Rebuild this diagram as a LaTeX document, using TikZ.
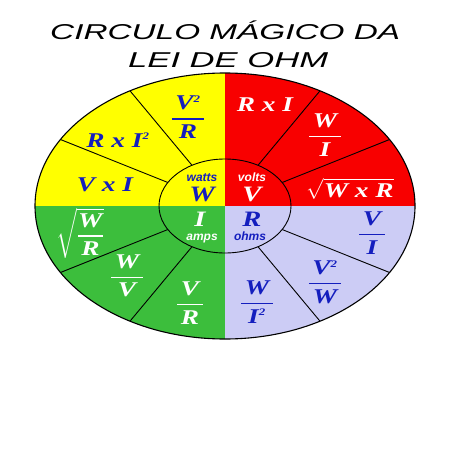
\documentclass[tikz,border=0pt]{standalone}
\usepackage{fontspec}
\usepackage{amsmath}
\usepackage{graphicx}
\setmainfont{Liberation Serif}
\newfontfamily\frmfont[FakeStretch=1.3]{Liberation Serif}
\newfontfamily\lblfont{Liberation Sans}
\newfontfamily\titlefont{Liberation Sans}
\definecolor{yel}{RGB}{255,255,0}
\definecolor{rd}{RGB}{248,0,0}
\definecolor{grn}{RGB}{60,190,60}
\definecolor{lav}{RGB}{204,204,245}
\definecolor{bl}{RGB}{20,30,190}
\newcommand\fr[2]{$\genfrac{}{}{1.5pt}{0}{\,\text{#1}\,}{\,\text{#2}\,}$}
\newcommand\sq[1]{\text{\fontsize{10}{10}\selectfont #1}}
\begin{document}
\begin{tikzpicture}[x=1pt,y=-1pt,
  frm/.style={inner sep=0pt,font=\fontsize{21}{23}\selectfont\frmfont\bfseries\itshape},
  small/.style={inner sep=0pt,anchor=base,font=\fontsize{12}{13}\selectfont\lblfont\bfseries\itshape},
  big/.style={inner sep=0pt,anchor=base,font=\fontsize{22}{23}\selectfont\frmfont\bfseries\itshape},
  divider/.style={line width=0.9pt},
  titletext/.style={inner sep=0pt,anchor=base west,font=\titlefont\itshape}]
\path[use as bounding box,fill=white] (0,0) rectangle (452,452);
\coordinate (c) at (225,206);
% title
\node[titletext] (t1) at (50,40) {\resizebox{350pt}{15pt}{CIRCULO M\smash{Á}GICO DA}};
\node[titletext] (t2) at (128,68) {\resizebox{200pt}{15pt}{LEI DE OHM}};
% quadrants
\begin{scope}
\clip (c) ellipse [x radius=190pt, y radius=133pt];
\fill[yel] (30,60) rectangle (225,206);
\fill[rd] (225,60) rectangle (420,206);
\fill[grn] (30,206) rectangle (225,350);
\fill[lav] (225,206) rectangle (420,350);
\end{scope}
\draw[line width=1.1pt] (c) ellipse [x radius=190pt, y radius=133pt];
\draw[divider] (c) ellipse [x radius=66pt, y radius=47pt];
\foreach \a in {30,60,120,150,210,240,300,330}
  \draw[divider] ({225+66*cos(\a)},{206-47*sin(\a)}) -- ({225+190*cos(\a)},{206-133*sin(\a)});
% yellow
\node[frm,text=bl] (y1) at (188,117) {\fr{V$^{\sq{2}}$}{R}};
\node[frm,text=bl] (y2) at (118,140) {R x I$^{\sq{2}}$};
\node[frm,text=bl] (y3) at (105,185) {V x I};
% red
\node[frm,text=white] (r1) at (265,105) {R x I};
\node[frm,text=white] (r2) at (325,135) {\fr{W}{I}};
\node[frm,text=white] (r3) at (350,189) {$\sqrt{\text{W x R}}$};
% green
\node[frm,text=white] (g1) at (80,233) {$\sqrt{\genfrac{}{}{1.5pt}{0}{\text{W}}{\text{R}}}$};
\node[frm,text=white] (g2) at (127,276) {\fr{W}{V}};
\node[frm,text=white] (g3) at (190,303) {\fr{V}{R}};
% lavender
\node[frm,text=bl] (p1) at (372,233) {\fr{V}{I}};
\node[frm,text=bl] (p2) at (325,282) {\fr{V$^{\sq{2}}$}{W}};
\node[frm,text=bl] (p3) at (257,302) {\fr{W}{I$^{\sq{2}}$}};
% centre
\node[small,text=bl] (wt) at (202,181) {watts};
\node[big,text=bl] (wb) at (202,201) {W};
\node[small,text=white] (vt) at (252,181) {volts};
\node[big,text=white] (vb) at (252,201) {V};
\node[big,text=white] (ib) at (200,226) {I};
\node[small,text=white] (it) at (202,240) {amps};
\node[big,text=bl] (rb) at (252,226) {R};
\node[small,text=bl] (rt) at (250,240) {ohms};
\end{tikzpicture}
\end{document}
